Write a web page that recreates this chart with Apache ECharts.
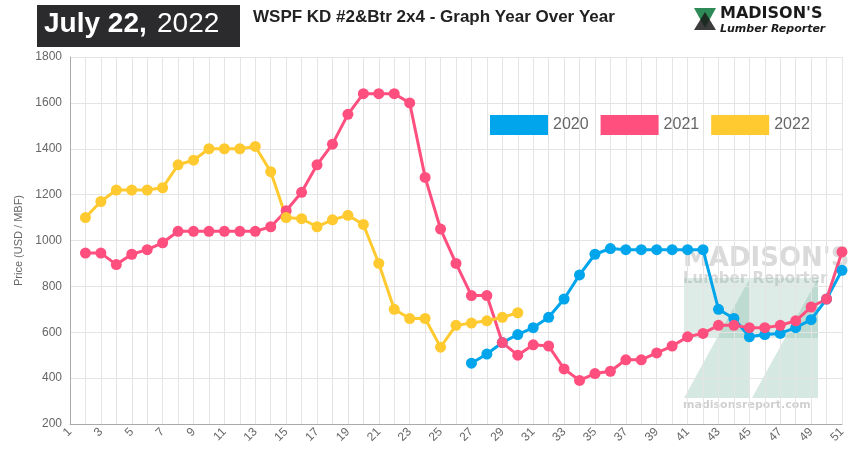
<!DOCTYPE html>
<html>
<head>
<meta charset="utf-8">
<script src="https://cdn.jsdelivr.net/npm/echarts@6/dist/echarts.min.js"></script>
<style>
  html, body { margin: 0; padding: 0; background: #fff; }
  #chart { width: 860px; height: 452px; }
</style>
</head>
<body>
<div id="chart"></div>
<script>
// weeks 1..51
var weeks = [];
for (var w = 1; w <= 51; w++) weeks.push(String(w));

// 2020 starts at week 27, 2021 and 2022 at week 2
var data2020 = [465, 505, 555, 590, 620, 665, 745, 850, 940, 965, 960, 960, 960, 960, 960, 960,
                700, 660, 580, 590, 595, 620, 655, 745, 870];
var data2021 = [945, 945, 895, 940, 960, 990, 1040, 1040, 1040, 1040,
                1040, 1040, 1060, 1130, 1210, 1330, 1420, 1550, 1640, 1640,
                1640, 1600, 1275, 1050, 900, 760, 760, 555, 500, 545,
                540, 440, 390, 420, 430, 480, 480, 510, 540, 580,
                595, 630, 630, 620, 620, 630, 650, 710, 745, 950];
var data2022 = [1100, 1170, 1220, 1220, 1220, 1230, 1330, 1350, 1400, 1400, 1400, 1410,
                1300, 1100, 1095, 1060, 1090, 1110, 1070, 900, 700, 660, 660, 535,
                630, 640, 650, 665, 685];

// pad to the week axis
function pad(startWeek, vals) {
    var out = [];
    for (var i = 1; i < startWeek; i++) out.push(null);
    return out.concat(vals);
}

var myChart = echarts.init(document.getElementById('chart'));

function lineSeries(name, color, vals) {
    return {
        name: name,
        type: 'line',
        data: vals,
        symbol: 'circle',
        symbolSize: 11,
        showAllSymbol: true,
        color: color,
        lineStyle: { width: 3, color: color },
        itemStyle: { color: color },
        animation: false
    };
}

var option = {
    backgroundColor: '#fff',
    graphic: [
        { type: 'rect', left: 37, top: 5, shape: { width: 203, height: 42 }, style: { fill: '#2b2b2e' } },
        { type: 'text', left: 44, top: 10, style: { text: 'July 22,', fill: '#fff', font: 'bold 28px "Liberation Sans", Arial' } },
        { type: 'text', left: 157, top: 10, style: { text: '2022', fill: '#fff', font: '28px "Liberation Sans", Arial' } },
        { type: 'text', left: 253, top: 9, style: { text: 'WSPF KD #2&Btr 2x4 - Graph Year Over Year', fill: '#222', font: 'bold 17px "Liberation Sans", Arial' } },
        { type: 'text', left: 720, top: 6, style: { text: "MADISON'S", fill: '#1a1a1a', font: 'bold 16px "DejaVu Sans"' } },
        { type: 'text', left: 720, top: 24, style: { text: 'Lumber Reporter', fill: '#1a1a1a', font: 'bold italic 11px "DejaVu Sans"' } },
        { type: 'polygon', shape: { points: [[694, 8], [716, 8], [705, 28]] }, style: { fill: '#2e8b57' } },
        { type: 'polygon', shape: { points: [[694, 30], [705, 12], [716, 30]] }, style: { fill: '#1a1a1a', opacity: 0.85 } },
        // watermark
        { type: 'text', left: 683, top: 246, z: 0, style: { text: "MADISON'S", fill: 'rgba(150,150,150,0.35)', font: 'bold 26px "DejaVu Sans"' } },
        { type: 'text', left: 683, top: 272, z: 0, style: { text: 'Lumber Reporter', fill: 'rgba(150,150,150,0.35)', font: 'bold 15px "DejaVu Sans"' } },
        { type: 'rect', left: 684, top: 278, z: 0, shape: { width: 134, height: 60 }, style: { fill: 'rgba(120,180,160,0.25)' } },
        { type: 'polygon', z: 0, shape: { points: [[684, 398], [750, 278], [750, 398]] }, style: { fill: 'rgba(120,180,160,0.3)' } },
        { type: 'polygon', z: 0, shape: { points: [[752, 398], [818, 278], [818, 398]] }, style: { fill: 'rgba(120,180,160,0.3)' } },
        { type: 'text', left: 683, top: 400, z: 0, style: { text: 'madisonsreport.com', fill: 'rgba(150,150,150,0.45)', font: 'bold 11px "DejaVu Sans"' } }
    ],
    legend: {
        top: 110,
        left: 485,
        itemWidth: 58,
        itemHeight: 20,
        itemGap: 12,
        icon: 'rect',
        textStyle: { fontSize: 16, color: '#666', fontFamily: 'Liberation Sans' },
        data: ['2020', '2021', '2022']
    },
    grid: { left: 70, right: 18, top: 57, bottom: 28 },
    xAxis: {
        type: 'category',
        data: weeks,
        boundaryGap: false,
        axisLine: { lineStyle: { color: '#aaa' } },
        axisTick: { show: false },
        axisLabel: { interval: 1, rotate: 45, color: '#666', fontSize: 12, margin: 6 },
        splitLine: { show: true, interval: 0, lineStyle: { color: '#e4e4e4' } }
    },
    yAxis: {
        type: 'value',
        min: 200,
        max: 1800,
        interval: 200,
        name: 'Price (USD / MBF)',
        nameLocation: 'middle',
        nameGap: 45,
        nameTextStyle: { color: '#666', fontSize: 11 },
        axisLine: { show: true, lineStyle: { color: '#aaa' } },
        axisLabel: { color: '#666', fontSize: 12, formatter: function (v) { return String(v); } },
        splitLine: { lineStyle: { color: '#e4e4e4' } }
    },
    series: [
        lineSeries('2020', '#00a5ec', pad(27, data2020)),
        lineSeries('2021', '#ff4f7f', pad(2, data2021)),
        lineSeries('2022', '#ffca2f', pad(2, data2022))
    ]
};

myChart.setOption(option);
</script>
</body>
</html>
